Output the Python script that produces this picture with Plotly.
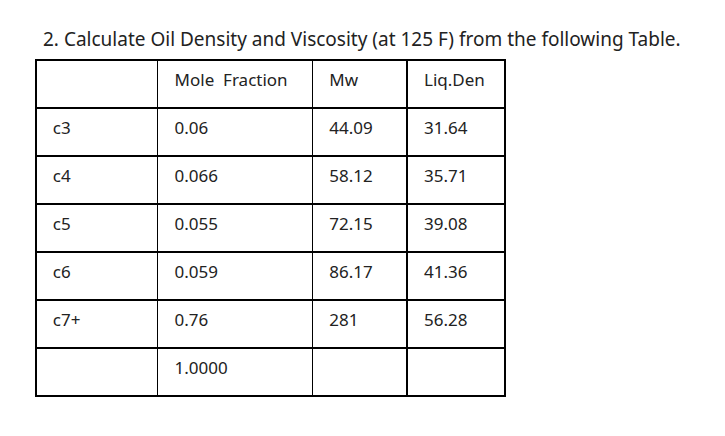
import plotly.graph_objects as go

title = "2. Calculate Oil Density and Viscosity (at 125 F) from the following Table."
header = ["", "Mole  Fraction", "Mw", "Liq.Den"]
components = ["c3", "c4", "c5", "c6", "c7+", ""]
mole_fraction = ["0.06", "0.066", "0.055", "0.059", "0.76", "1.0000"]
mw = ["44.09", "58.12", "72.15", "86.17", "281", ""]
liq_den = ["31.64", "35.71", "39.08", "41.36", "56.28", ""]

W, H = 725, 436
left, right, top, bottom = 28, 497, 52, 415
font = dict(family="Noto Sans, Liberation Sans, sans-serif", size=17, color="#222")

# leading blank line pushes text toward the bottom of each cell, like the Word table
pad = lambda col: ["<br>  " + v if v else v for v in col]

fig = go.Figure(go.Table(
    domain=dict(x=[left / W, right / W], y=[1 - bottom / H, 1 - top / H]),
    columnwidth=[122, 155, 95, 98],
    header=dict(values=pad(header), height=48, align="left",
                fill_color="white", line=dict(color="black", width=1.5),
                font=font),
    cells=dict(values=[pad(components), pad(mole_fraction), pad(mw), pad(liq_den)],
               height=48, align="left", fill_color="white",
               line=dict(color="black", width=1.5), font=font),
))

fig.add_annotation(text=title, x=33 / W, y=1 - 31 / H, xref="paper", yref="paper",
                   xanchor="left", yanchor="middle", showarrow=False,
                   font=dict(family="Noto Sans, Liberation Sans, sans-serif", size=19, color="#222"))

fig.update_layout(width=W, height=H, margin=dict(l=0, r=0, t=0, b=0),
                  paper_bgcolor="white", plot_bgcolor="white")
fig.write_html("out.html")
